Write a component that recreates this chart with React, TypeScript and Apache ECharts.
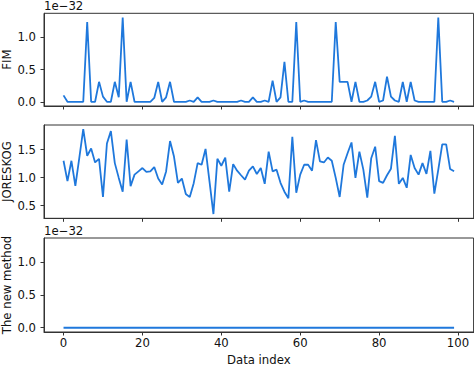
import React, { useEffect, useRef } from "react";
import * as echarts from "echarts";

// Values in units of 1e-32 (shown by the "1e−32" offset text)
const fimValues = [
  0.1, 0, 0, 0, 0, 0, 1.24, 0, 0, 0.31,
  0.08, 0, 0, 0.31, 0.07, 1.31, 0, 0.31, 0, 0,
  0, 0, 0, 0.06, 0.31, 0, 0.07, 0.31, 0, 0,
  0, 0, 0.02, 0, 0.07, 0, 0, 0, 0.02, 0,
  0, 0, 0, 0, 0, 0.02, 0, 0, 0.07, 0,
  0, 0.02, 0, 0.33, 0, 0.07, 0.62, 0, 0, 1.24,
  0, 0.02, 0, 0, 0, 0, 0, 0, 0, 1.24,
  0.31, 0.31, 0.31, 0, 0.31, 0, 0, 0.02, 0.08, 0.31,
  0, 0.02, 0.39, 0.08, 0.02, 0, 0.31, 0, 0.31, 0.02,
  0, 0, 0, 0, 0, 1.31, 0, 0, 0.02, 0,
];

const joreskogValues = [
  1.3, 0.935, 1.3, 0.85, 1.35, 1.864, 1.39, 1.52, 1.27, 1.335,
  0.653, 1.61, 1.83, 1.258, 0.994, 0.747, 1.68, 0.847, 1.052, 1.111,
  1.17, 1.1, 1.11, 1.188, 0.982, 0.876, 1.11, 1.652, 1.376, 0.905,
  0.982, 0.705, 0.65, 0.9, 1.258, 1.229, 1.511, 0.93, 0.347, 1.335,
  1.211, 1.358, 0.747, 1.24, 1.123, 1.041, 0.964, 1.123, 1.2, 1.064,
  1.17, 0.888, 1.464, 1.111, 1.141, 0.905, 0.747, 0.629, 1.728, 0.729,
  1.052, 1.229, 1.229, 1.123, 1.67, 1.288, 1.27, 1.358, 1.3, 0.994,
  0.653, 1.229, 1.435, 1.628, 0.994, 1.464, 1.141, 0.641, 1.346, 1.552,
  0.935, 0.905, 1.041, 1.158, 1.746, 0.888, 0.994, 0.817, 1.405, 1.17,
  1.052, 1.258, 1.064, 1.476, 0.711, 1.141, 1.593, 1.593, 1.152, 1.111,
];

const newMethodValues = new Array(100).fill(0);

const xTicks = [0, 20, 40, 60, 80, 100];
const yTicksFim = [0, 0.5, 1.0];
const yTicksJoreskog = [0.5, 1.0, 1.5];
const yTicksNew = [0, 0.5, 1.0];

const panelNames = ["FIM", "JORESKOG", "The new method"];
const xAxisTitle = "Data index";
const offsetText = "1e\u221232";

const FONT = "DejaVu Sans";
const FS = 11.7;
const LINE_COLOR = "#1f78dc";
const SPINE = "#333333";

function paddedRange(vals: number[]) {
  const mn = Math.min(...vals);
  const mx = Math.max(...vals);
  const m = (mx - mn) * 0.05;
  return [mn - m, mx + m];
}

export default function App() {
  const ref = useRef<HTMLDivElement>(null);

  useEffect(() => {
    if (!ref.current) return;
    const chart = echarts.init(ref.current, null, { renderer: "svg" });

    const n = fimValues.length;
    const xMin = -(n - 1) * 0.05;
    const xMax = (n - 1) * 1.05;
    const fimRange = paddedRange(fimValues);
    const jorRange = paddedRange(joreskogValues);

    const grids = [
      { left: 44, top: 13.3, width: 429.6, height: 92.7 },
      { left: 44, top: 125, width: 429.6, height: 93.3 },
      { left: 44, top: 238, width: 429.6, height: 94 },
    ].map((g) => ({
      ...g,
      show: true,
      borderColor: SPINE,
      borderWidth: 1,
      backgroundColor: "transparent",
      containLabel: false,
      outerBoundsMode: "none",
    }));

    const xAxes = [0, 1, 2].map((i) => ({
      type: "value",
      gridIndex: i,
      min: xMin,
      max: xMax,
      axisLine: { show: true, onZero: false, lineStyle: { color: SPINE, width: 1 } },
      splitLine: { show: false },
      axisTick: {
        show: true,
        inside: false,
        length: 3.5,
        lineStyle: { color: SPINE, width: 1 },
        customValues: xTicks,
      },
      axisLabel: {
        show: true,
        customValues: xTicks,
        margin: 5,
        fontFamily: FONT,
        fontSize: FS,
        color: i === 2 ? "#111" : "rgba(0,0,0,0)",
        formatter: (v: number) => (i === 2 ? String(Math.round(v)) : ""),
      },
      name: i === 2 ? xAxisTitle : "",
      nameLocation: "middle",
      nameGap: 22,
      nameMoveOverlap: false,
      nameTextStyle: { fontFamily: FONT, fontSize: FS, color: "#111" },
    }));

    const yRanges = [fimRange, jorRange, fimRange];
    const yTicks = [yTicksFim, yTicksJoreskog, yTicksNew];
    const yAxes = [0, 1, 2].map((i) => ({
      type: "value",
      gridIndex: i,
      min: yRanges[i][0],
      max: yRanges[i][1],
      axisLine: { show: true, onZero: false, lineStyle: { color: SPINE, width: 1 } },
      splitLine: { show: false },
      axisTick: {
        show: true,
        inside: false,
        length: 3.5,
        lineStyle: { color: SPINE, width: 1 },
        customValues: yTicks[i],
      },
      axisLabel: {
        show: true,
        customValues: yTicks[i],
        margin: 8,
        hideOverlap: false,
        fontFamily: FONT,
        fontSize: FS,
        color: "#111",
        formatter: (v: number) => v.toFixed(1),
      },
      name: panelNames[i],
      nameLocation: "middle",
      nameGap: 31,
      nameMoveOverlap: false,
      nameTextStyle: { fontFamily: FONT, fontSize: FS, color: "#111" },
    }));

    const seriesData = [fimValues, joreskogValues, newMethodValues];
    const series = seriesData.map((vals, i) => ({
      type: "line",
      xAxisIndex: i,
      yAxisIndex: i,
      data: vals.map((v, k) => [k, v]),
      showSymbol: false,
      symbol: "none",
      lineStyle: { color: LINE_COLOR, width: 1.8 },
    }));

    chart.setOption({
      animation: false,
      backgroundColor: "#ffffff",
      grid: grids,
      xAxis: xAxes,
      yAxis: yAxes,
      series,
      graphic: [
        {
          type: "text",
          x: 44,
          y: 5.5,
          style: {
            text: offsetText,
            fontFamily: FONT,
            fontSize: FS,
            fill: "#111",
            verticalAlign: "middle",
            align: "left",
          },
        },
        {
          type: "text",
          x: 44,
          y: 230.5,
          style: {
            text: offsetText,
            fontFamily: FONT,
            fontSize: FS,
            fill: "#111",
            verticalAlign: "middle",
            align: "left",
          },
        },
      ],
    });

    return () => chart.dispose();
  }, []);

  return (
    <div
      ref={ref}
      style={{ position: "fixed", left: 0, top: 0, width: 474, height: 366 }}
    />
  );
}
